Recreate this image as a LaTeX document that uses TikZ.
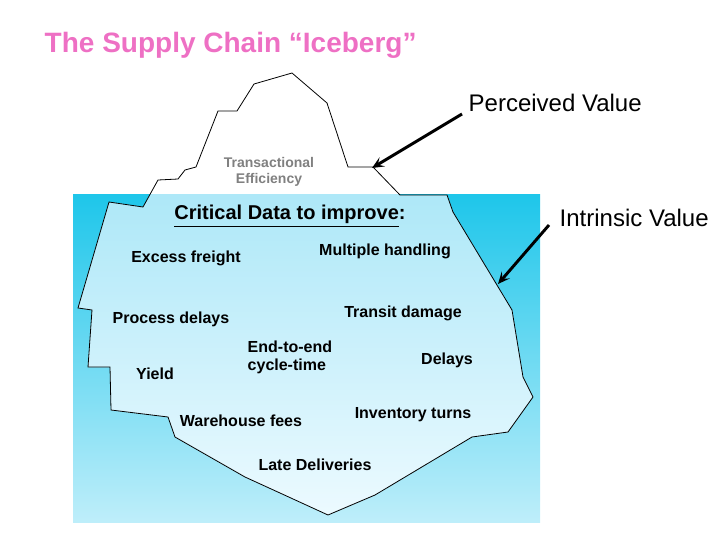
\documentclass[tikz,border=0pt]{standalone}
\usepackage{fontspec}
\setmainfont{Liberation Sans}
\usetikzlibrary{arrows.meta}
\definecolor{titlepink}{HTML}{EE70C4}
\begin{document}
\begin{tikzpicture}[x=0.75pt,y=-0.75pt,
  lbl/.style={font=\bfseries\fontsize{12}{13.5}\selectfont},
  big/.style={font=\fontsize{18}{20}\selectfont, anchor=west},
  arr/.style={line width=2.2pt,-{Stealth[length=9pt,width=8pt,inset=4pt]}}]
\useasboundingbox (0,0) rectangle (728,546);
\def\berg{(292,73) -- (327,103) -- (348,167) -- (373,167) -- (400,195) -- (447,195) -- (453,212) -- (512,310) -- (523,377) -- (533,397) -- (508,432) -- (472,437) -- (375,495) -- (328,515) -- (280,493) -- (245,477) -- (175,437) -- (168,417) -- (111,410) -- (110,367) -- (88,367) -- (92,310) -- (78,308) -- (109,202) -- (143,207) -- (158,180) -- (178,179) -- (185,170) -- (196,167) -- (218,111) -- (237,111) -- (254,84) -- cycle}
\shade[top color={rgb,255:red,30;green,198;blue,234}, bottom color={rgb,255:red,190;green,238;blue,250}] (73,194) rectangle (540,522);
\fill[white] \berg;
\begin{scope}
\clip (73,194) rectangle (540,522);
\shade[top color={rgb,255:red,150;green,225;blue,245}, bottom color={rgb,255:red,236;green,250;blue,255}] \berg;
\end{scope}
\draw[black, line width=0.6pt] \berg;
\node[anchor=west, text=titlepink, font=\bfseries\fontsize{21}{24}\selectfont] (title) at (40,45) {The Supply Chain “Iceberg”};
\node[big] (pv) at (464,103) {Perceived Value};
\node[big] (iv) at (555,218) {Intrinsic Value};
\coordinate (pvt) at (372,168);
\coordinate (ivt) at (498,284);
\coordinate (pvs) at (462,114);
\coordinate (ivs) at (549,225);
\draw[arr] (pvs) -- (pvt);
\draw[arr] (ivs) -- (ivt);
\node[text=gray, align=center, font=\bfseries\fontsize{10.5}{12}\selectfont] (te) at (269,172) {Transactional\\Efficiency};
\node[font=\bfseries\fontsize{15}{17}\selectfont] (cd) at (290,216) {\underline{Critical Data to improve}:};
\node[lbl] (ef) at (186,258) {Excess freight};
\node[lbl] (mh) at (385,251) {Multiple handling};
\node[lbl] (pd) at (171,319) {Process delays};
\node[lbl] (td) at (403,313) {Transit damage};
\node[lbl, align=left, anchor=west] (ee) at (243,357) {End-to-end\\cycle-time};
\node[lbl] (dl) at (447,360) {Delays};
\node[lbl] (yd) at (155,374) {Yield};
\node[lbl] (it) at (413,415) {Inventory turns};
\node[lbl] (wf) at (241,421) {Warehouse fees};
\node[lbl] (ld) at (315,465) {Late Deliveries};
\end{tikzpicture}
\end{document}
